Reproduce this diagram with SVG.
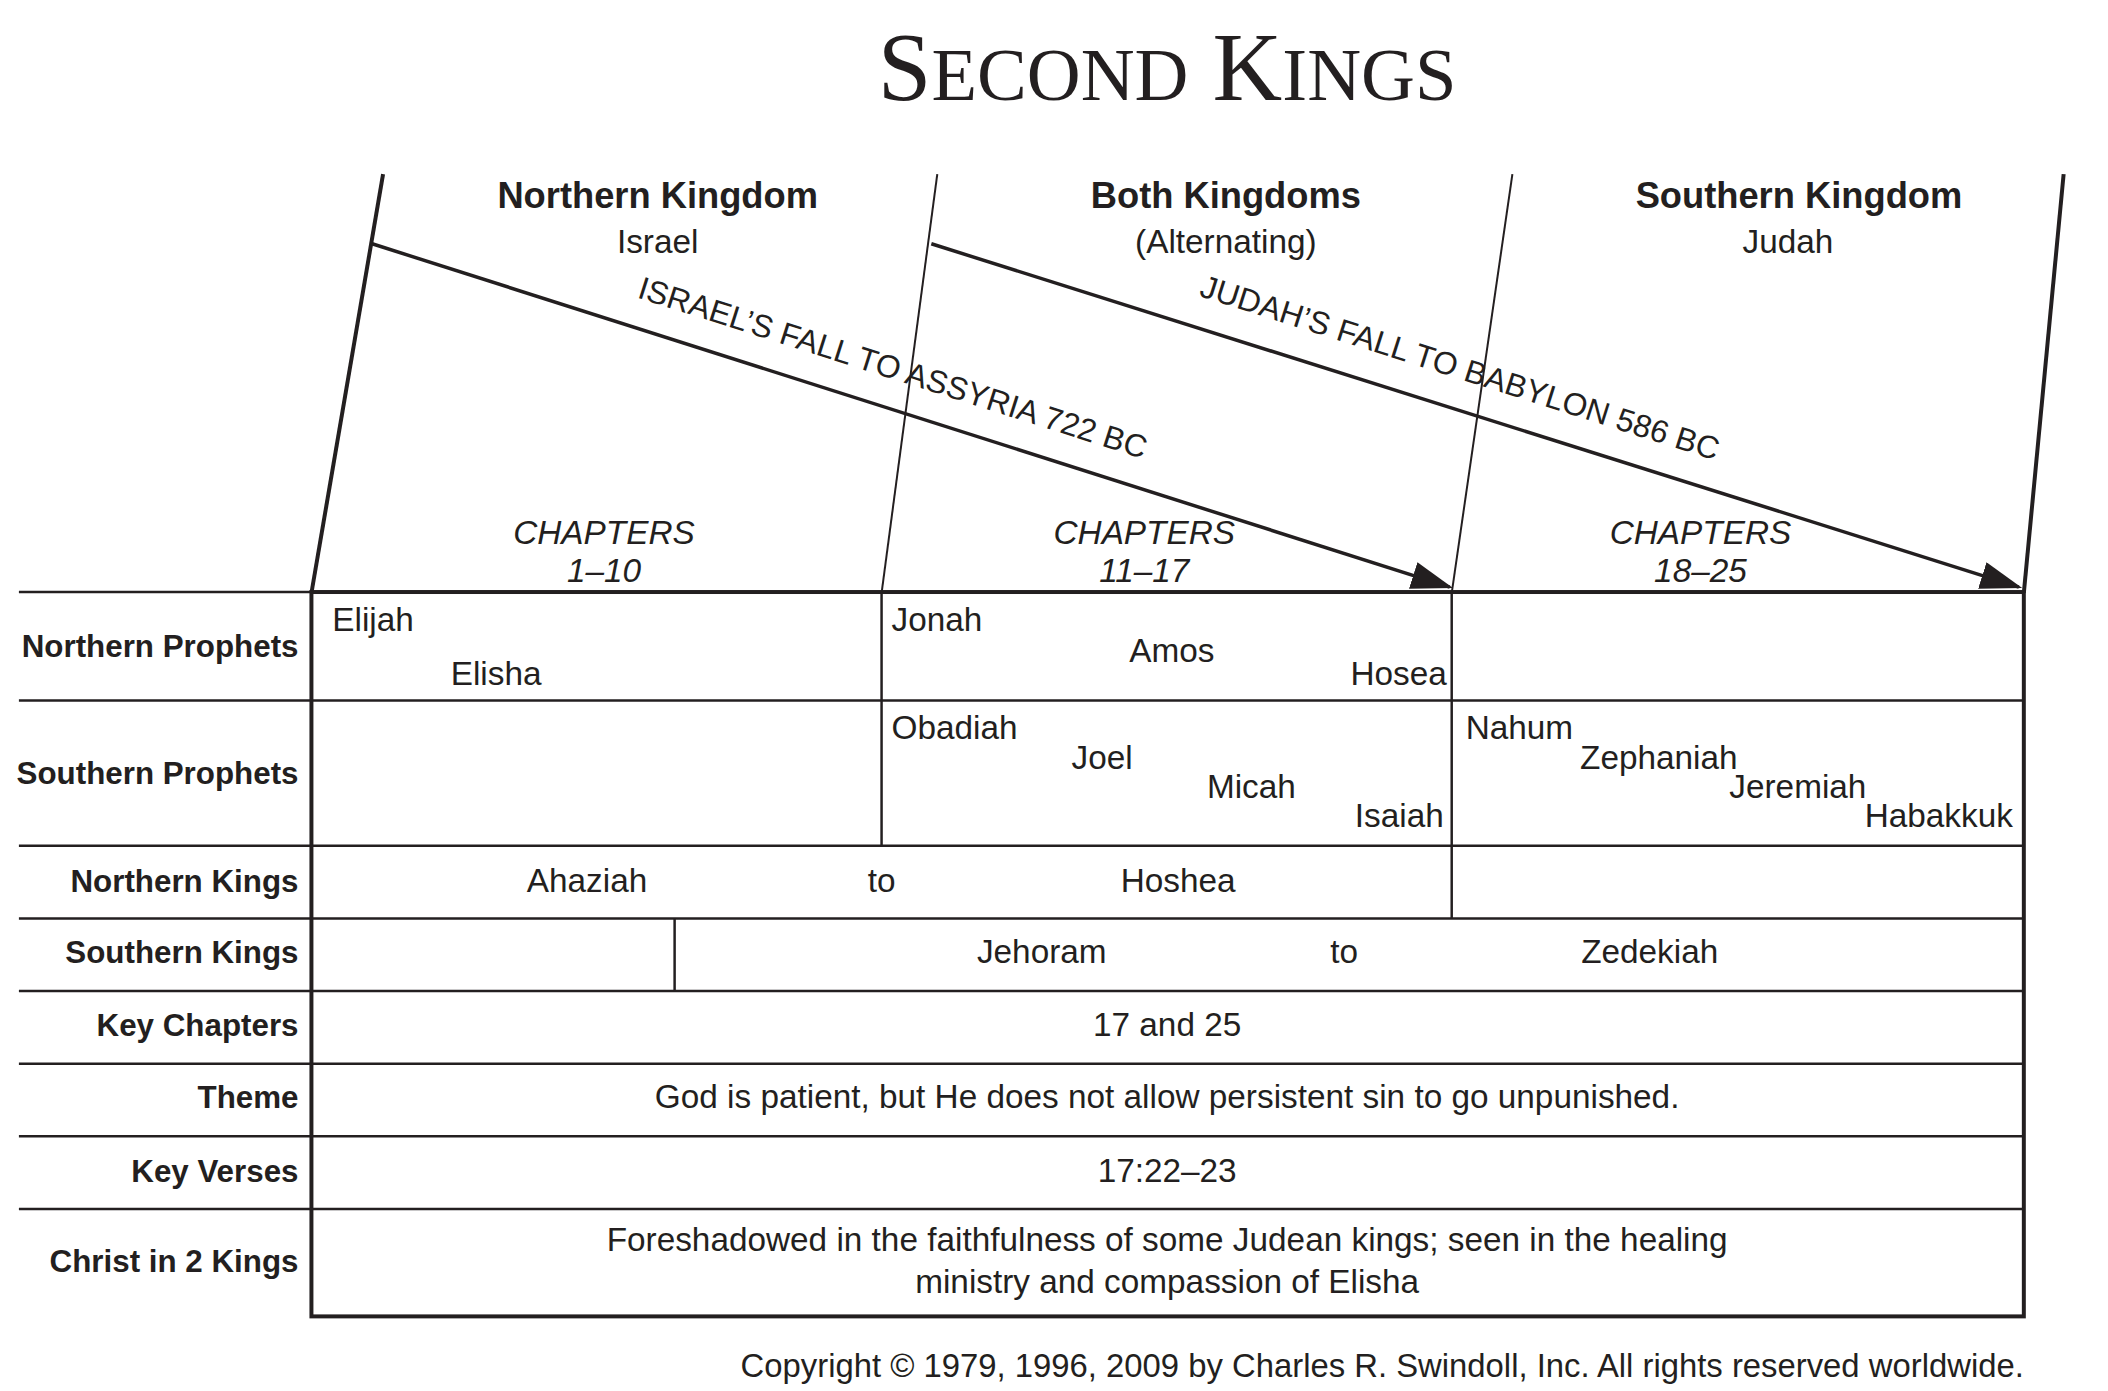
<svg xmlns="http://www.w3.org/2000/svg" width="2108" height="1391" viewBox="0 0 2108 1391">
<style>
text{font-family:"Liberation Sans",Arial,sans-serif;font-size:33.5px;fill:#231f20}
.lb{font-weight:bold;text-anchor:end;font-size:31.5px}
.hd{font-weight:bold;font-size:36.5px;text-anchor:middle}
.c{text-anchor:middle}
.r{text-anchor:end}
.it{font-style:italic;text-anchor:middle}
.ln{stroke:#231f20;fill:none}
</style>
<defs><marker id="ah" markerWidth="12" markerHeight="8" refX="11" refY="4" orient="auto" markerUnits="strokeWidth"><path d="M0,0 L12,4 L0,8 Z" fill="#231f20"/></marker></defs>
<rect width="2108" height="1391" fill="#fff"/>
<g transform="scale(0.995)">
<text x="1173" y="101" class="c" style="font-family:'Liberation Serif',serif;font-size:97px">S<tspan font-size="75">ECOND</tspan> K<tspan font-size="75">INGS</tspan></text>
<g id="frame">
<line class="ln" x1="385" y1="175" x2="313" y2="596" stroke-width="4"/>
<line class="ln" x1="942" y1="175" x2="886" y2="596" stroke-width="2"/>
<line class="ln" x1="1520" y1="175" x2="1459" y2="596" stroke-width="2"/>
<line class="ln" x1="2074" y1="175" x2="2034" y2="596" stroke-width="4"/>
<rect class="ln" x="313" y="595" width="1721" height="728" stroke-width="4"/>
<g stroke-width="2.5" class="ln" style="stroke:#231f20">
<line x1="19" y1="595" x2="313" y2="595"/>
<line x1="19" y1="704" x2="2034" y2="704"/>
<line x1="19" y1="850" x2="2034" y2="850"/>
<line x1="19" y1="923" x2="2034" y2="923"/>
<line x1="19" y1="996" x2="2034" y2="996"/>
<line x1="19" y1="1069" x2="2034" y2="1069"/>
<line x1="19" y1="1142" x2="2034" y2="1142"/>
<line x1="19" y1="1215" x2="2034" y2="1215"/>
<line x1="886" y1="595" x2="886" y2="850"/>
<line x1="1459" y1="595" x2="1459" y2="923"/>
<line x1="678" y1="923" x2="678" y2="996"/>
</g>
</g>
<g id="connectors">
<line class="ln" x1="374" y1="245" x2="1457" y2="590" stroke-width="3.5" marker-end="url(#ah)"/>
<line class="ln" x1="936" y1="245" x2="2029" y2="590" stroke-width="3.5" marker-end="url(#ah)"/>
</g>
<text transform="translate(894,380) rotate(17.7)" class="c" style="font-size:32px">ISRAEL’S FALL TO ASSYRIA 722 BC</text>
<text transform="translate(1464,380) rotate(17.7)" class="c" style="font-size:32px">JUDAH’S FALL TO BABYLON 586 BC</text>
<g id="headers">
<text x="661" y="209" class="hd">Northern Kingdom</text><text x="661" y="254" class="c">Israel</text>
<text x="1232" y="209" class="hd">Both Kingdoms</text><text x="1232" y="254" class="c">(Alternating)</text>
<text x="1808" y="209" class="hd">Southern Kingdom</text><text x="1797" y="254" class="c">Judah</text>
<text x="607" y="547" class="it">CHAPTERS</text><text x="607" y="585" class="it">1–10</text>
<text x="1150" y="547" class="it">CHAPTERS</text><text x="1150" y="585" class="it">11–17</text>
<text x="1709" y="547" class="it">CHAPTERS</text><text x="1709" y="585" class="it">18–25</text>
</g>
<g id="labels">
<text x="300" y="660" class="lb">Northern Prophets</text>
<text x="300" y="788" class="lb">Southern Prophets</text>
<text x="300" y="896" class="lb">Northern Kings</text>
<text x="300" y="968" class="lb">Southern Kings</text>
<text x="300" y="1041" class="lb">Key Chapters</text>
<text x="300" y="1114" class="lb">Theme</text>
<text x="300" y="1188" class="lb">Key Verses</text>
<text x="300" y="1278" class="lb">Christ in 2 Kings</text>
</g>
<g id="cells">
<text x="334" y="634">Elijah</text><text x="453" y="688">Elisha</text>
<text x="896" y="634">Jonah</text><text x="1135" y="665">Amos</text><text x="1454" y="688" class="r">Hosea</text>
<text x="896" y="743">Obadiah</text><text x="1077" y="773">Joel</text><text x="1213" y="802">Micah</text><text x="1451" y="831" class="r">Isaiah</text>
<text x="1473" y="743">Nahum</text><text x="1588" y="773">Zephaniah</text><text x="1738" y="802">Jeremiah</text><text x="2023" y="831" class="r">Habakkuk</text>
<text x="590" y="896" class="c">Ahaziah</text><text x="886" y="896" class="c">to</text><text x="1184" y="896" class="c">Hoshea</text>
<text x="1047" y="968" class="c">Jehoram</text><text x="1351" y="968" class="c">to</text><text x="1658" y="968" class="c">Zedekiah</text>
<text x="1173" y="1041" class="c">17 and 25</text>
<text x="1173" y="1114" class="c">God is patient, but He does not allow persistent sin to go unpunished.</text>
<text x="1173" y="1188" class="c">17:22–23</text>
<text x="1173" y="1257" class="c">Foreshadowed in the faithfulness of some Judean kings; seen in the healing</text>
<text x="1173" y="1299" class="c">ministry and compassion of Elisha</text>
</g>
<text x="2034" y="1384" class="r" style="font-size:33px">Copyright © 1979, 1996, 2009 by Charles R. Swindoll, Inc. All rights reserved worldwide.</text>
</g>
</svg>
